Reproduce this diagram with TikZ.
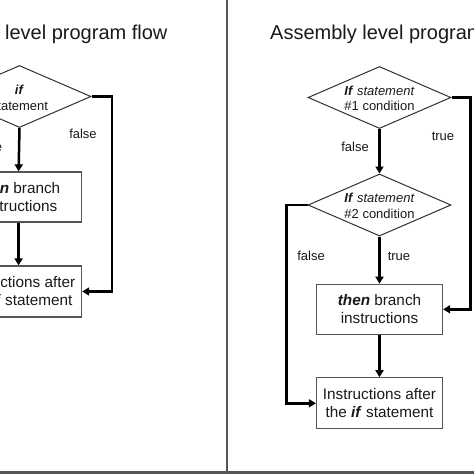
\documentclass[tikz,border=0pt]{standalone}
\usepackage{fontspec}
\setmainfont{Liberation Sans}
\usetikzlibrary{arrows.meta,shapes.geometric}
\definecolor{ink}{HTML}{1A1A1A}
\definecolor{edge}{HTML}{555555}
\tikzset{
 dia/.style={diamond, draw=ink!90, line width=1pt, inner sep=0pt, minimum width=143pt, minimum height=62pt},
 box/.style={rectangle, draw=edge, line width=1.2pt, minimum width=126pt, minimum height=50pt, inner sep=0pt, align=center, text=ink, font=\fontsize{15.3}{18}\selectfont},
 dtxt/.style={align=center, text=ink, font=\fontsize{13}{15.5}\selectfont, inner sep=0pt},
 lbl/.style={text=ink, font=\fontsize{13}{15}\selectfont, inner sep=0pt},
 flow/.style={line width=2.5pt, draw=black, -{Triangle[length=7pt,width=8pt]}},
 ttl/.style={text=ink, font=\fontsize{20}{24}\selectfont, anchor=base west, inner sep=0pt},
}
\begin{document}
\begin{tikzpicture}[x=1pt,y=-1pt]
\useasboundingbox (0,0) rectangle (474,474);
\fill[white] (0,0) rectangle (474,474);
\clip (0,0) rectangle (474,474);
% frame lines
\draw[edge, line width=1.8pt] (227,0) -- (227,474);
\fill[edge] (0,471) rectangle (474,474);
% titles
\node[ttl] (t1) at (-41.7,39) {High level program flow};
\node[ttl] (t2) at (270,39) {Assembly level program flow};
% left panel
\node[dia] (ld) at (19.5,96.5) {};
\node[dtxt] (ldt) at (19.5,98) {\textbf{\textit{if}}\\statement};
\node[box] (lb1) at (18.6,197) {\textbf{\textit{then}} branch\\instructions};
\node[box, minimum height=51pt] (lb2) at (18.6,291.5) {Instructions after\\the \textbf{\textit{if}} statement};
\coordinate (lr) at (112,0);
\draw[flow] (ld.south) -- (lb1.north);
\draw[flow] (lb1.south) -- (lb2.north);
\draw[flow] (ld.east) -- (ld.east -| lr) |- (lb2.east);
\node[lbl] (lf) at (83,134) {false};
\node[lbl] (lt) at (-9,147) {true};
% right panel
\node[dia] (rd1) at (379.5,97.5) {};
\node[dtxt] (rd1t) at (379.5,98.5) {\textbf{\textit{If}} \textit{statement}\\\#1 condition};
\node[dia] (rd2) at (379.5,205) {};
\node[dtxt] (rd2t) at (379.5,206) {\textbf{\textit{If}} \textit{statement}\\\#2 condition};
\node[box] (rb1) at (379.5,309.3) {\textbf{\textit{then}} branch\\instructions};
\node[box, minimum height=51pt] (rb2) at (379.5,403.3) {Instructions after\\the \textbf{\textit{if}} statement};
\coordinate (rr) at (470.5,0);
\coordinate (rl) at (286.3,0);
\draw[flow] (rd1.south) -- (rd2.north);
\draw[flow] (rd2.south) -- (rb1.north);
\draw[flow] (rb1.south) -- (rb2.north);
\draw[flow] (rd1.east) -- (rd1.east -| rr) |- (rb1.east);
\draw[flow] (rd2.west) -- (rd2.west -| rl) |- (rb2.west);
\node[lbl] (rf1) at (355,147) {false};
\node[lbl] (rt1) at (443,136) {true};
\node[lbl] (rf2) at (311,256) {false};
\node[lbl] (rt2) at (399,256) {true};
\end{tikzpicture}
\end{document}
